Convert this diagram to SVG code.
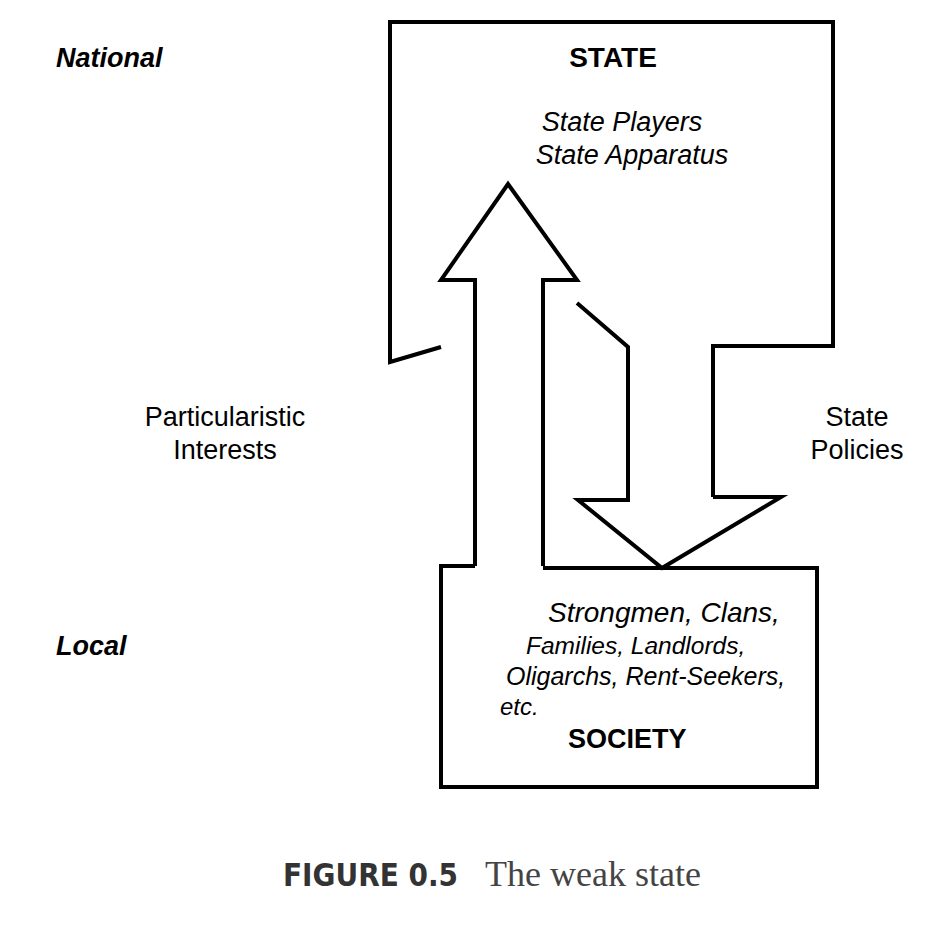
<svg xmlns="http://www.w3.org/2000/svg" width="942" height="929" viewBox="0 0 942 929">
<style>
.l{fill:none;stroke:#000;stroke-width:4;stroke-linejoin:miter}
text{font-family:"Liberation Sans",Arial,sans-serif;fill:#000}
.bi{font-weight:bold;font-style:italic;font-size:27px}
.b{font-weight:bold;font-size:28px}
.i{font-style:italic;font-size:27px}
.n{font-size:27px}
</style>
<rect width="942" height="929" fill="#fff"/>
<g id="state">
<path class="l" d="M441,347 L390,362 L390,22 L833,22 L833,346 L713,346 L713,497"/>
<text class="b" x="613" y="67" text-anchor="middle">STATE</text>
<text class="i" x="622" y="131" text-anchor="middle">State Players</text>
<text class="i" x="632" y="164" text-anchor="middle">State Apparatus</text>
</g>
<g id="society">
<path class="l" d="M475,566 L441,566 L441,787 L817,787 L817,568 L543,568"/>
<text class="i" x="548" y="622" style="font-size:28px">Strongmen, Clans,</text>
<text class="i" x="526" y="654" style="font-size:24.5px">Families, Landlords,</text>
<text class="i" x="506" y="685" style="font-size:25px">Oligarchs, Rent-Seekers,</text>
<text class="i" x="500" y="715" style="font-size:24px">etc.</text>
<text class="b" x="568" y="748" style="font-size:27px">SOCIETY</text>
</g>
<g id="connectors">
<path class="l" d="M475,566 L475,280 L441,280 L508,184 L577,280 L543,280 L543,566"/>
<path class="l" d="M577,303 L628,347 L628,500 L578,500 L662,568 L781,497 L713,497"/>
</g>
<g id="labels">
<text class="bi" x="56" y="67">National</text>
<text class="bi" x="56" y="655">Local</text>
<text class="n" x="225" y="426" text-anchor="middle">Particularistic</text>
<text class="n" x="225" y="459" text-anchor="middle">Interests</text>
<text class="n" x="857" y="426" text-anchor="middle">State</text>
<text class="n" x="857" y="459" text-anchor="middle">Policies</text>
<text x="283" y="886" textLength="175" lengthAdjust="spacingAndGlyphs" style="font-family:'DejaVu Sans Condensed','Liberation Sans Narrow',sans-serif;font-weight:bold;font-size:32px;fill:#333">FIGURE 0.5</text>
<text x="485" y="886" style="font-family:'Liberation Serif',serif;font-size:36px;fill:#444">The weak state</text>
</g>
</svg>
